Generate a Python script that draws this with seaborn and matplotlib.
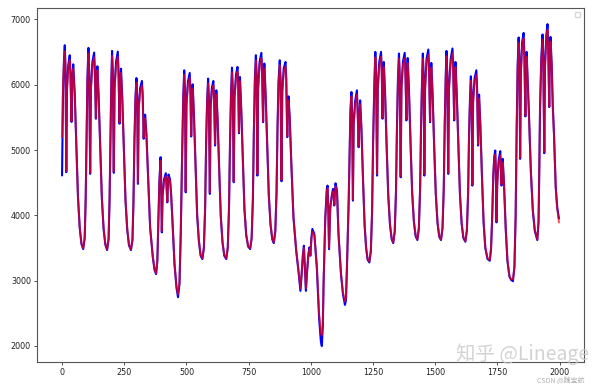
import numpy as np
import pandas as pd
import matplotlib
matplotlib.use('Agg')
import matplotlib.pyplot as plt
import seaborn as sns

# 15-min load, actual (blue) vs predicted (red), one row per day
day_x = [
    [0, 4, 8, 11, 14, 17, 20, 25, 31, 34, 38, 41, 45, 51, 58, 64, 71, 78],
    [85, 91, 95, 99, 102, 106, 109, 113, 116, 122, 129, 132, 136, 139, 142, 147, 154, 160, 167, 174],
    [181, 187, 191, 195, 198, 201, 204, 208, 211, 217, 224, 227, 231, 234, 237, 242, 249, 255, 262, 269],
    [277, 283, 287, 291, 295, 299, 302, 305, 308, 314, 321, 324, 328, 331, 334, 339, 345, 354, 365, 372],
    [378, 383, 387, 391, 396, 398, 401, 404, 410, 417, 420, 423, 426, 428, 434, 438, 443, 448, 452, 460],
    [466, 472, 477, 482, 487, 491, 494, 497, 500, 506, 513, 516, 519, 522, 525, 530, 537, 543, 550, 557],
    [564, 570, 575, 579, 583, 587, 590, 594, 597, 602, 608, 611, 615, 618, 620, 625, 632, 638, 645, 652],
    [660, 666, 671, 675, 679, 683, 686, 690, 693, 699, 705, 708, 711, 713, 715, 720, 727, 733, 740, 748],
    [756, 762, 767, 771, 775, 779, 782, 785, 788, 794, 801, 804, 808, 810, 813, 818, 825, 831, 838, 845],
    [851, 857, 862, 866, 870, 875, 878, 882, 885, 891, 898, 901, 905, 907, 910, 915, 921, 930, 941, 950,
     958, 963, 968, 972, 976, 980, 985, 990, 994, 998, 1002, 1006, 1014, 1024, 1033, 1040],
    [1044, 1048, 1051, 1058, 1064, 1067, 1070, 1073, 1078, 1084, 1089, 1092, 1094, 1097, 1099, 1105, 1111, 1121, 1129],
    [1137, 1141, 1145, 1152, 1159, 1163, 1166, 1169, 1172, 1178, 1185, 1188, 1192, 1195, 1198, 1203, 1210, 1216, 1222, 1228],
    [1235, 1241, 1246, 1250, 1255, 1259, 1262, 1266, 1269, 1275, 1282, 1285, 1288, 1290, 1293, 1298, 1305, 1311, 1318, 1325],
    [1331, 1337, 1342, 1346, 1350, 1354, 1357, 1361, 1364, 1370, 1377, 1380, 1384, 1386, 1389, 1394, 1401, 1407, 1414, 1421],
    [1428, 1434, 1439, 1443, 1447, 1450, 1453, 1456, 1459, 1465, 1472, 1475, 1479, 1481, 1484, 1489, 1496, 1502, 1509, 1516],
    [1523, 1529, 1534, 1538, 1542, 1545, 1548, 1552, 1555, 1562, 1569, 1572, 1576, 1578, 1581, 1586, 1593, 1599, 1606, 1613],
    [1621, 1627, 1632, 1636, 1640, 1643, 1646, 1649, 1652, 1658, 1665, 1668, 1672, 1674, 1676, 1681, 1688, 1694, 1701, 1710],
    [1719, 1724, 1729, 1733, 1737, 1741, 1743, 1746, 1749, 1755, 1761, 1763, 1766, 1768, 1771, 1776, 1783, 1790, 1798, 1805],
    [1812, 1818, 1823, 1827, 1831, 1835, 1838, 1841, 1844, 1849, 1855, 1858, 1862, 1864, 1867, 1872, 1876, 1884, 1892, 1900],
    [1910, 1915, 1918, 1921, 1926, 1931, 1934, 1938, 1941, 1946, 1951, 1954, 1958, 1960, 1963, 1968, 1972, 1977, 1984, 1990, 1997],
]

day_actual = [
    [4610, 5900, 6400, 6605, 6250, 4660, 5950, 6300, 6452, 6150, 5430, 6100, 6313, 5860, 4990, 4280, 3810, 3560],
    [3482, 3650, 4250, 5300, 6100, 6564, 6200, 4634, 5950, 6350, 6493, 6200, 5479, 6050, 6283, 5830, 4960, 4260, 3790, 3550],
    [3467, 3630, 4230, 5250, 6050, 6518, 6200, 4650, 5950, 6350, 6508, 6200, 5403, 6000, 6247, 5800, 4930, 4230, 3780, 3540],
    [3467, 3620, 4200, 5150, 5800, 6103, 5800, 4481, 5650, 5950, 6057, 5850, 5172, 5450, 5541, 5250, 4680, 3810, 3350, 3160],
    [3098, 3300, 3900, 4500, 4890, 4600, 3738, 4300, 4550, 4644, 4450, 4198, 4500, 4624, 4550, 4350, 3970, 3550, 3250, 2890],
    [2745, 2950, 3700, 4800, 5800, 6221, 5900, 4352, 5700, 6050, 6180, 5900, 5207, 5750, 6006, 5550, 4700, 4000, 3600, 3380],
    [3329, 3500, 4100, 5100, 5750, 6094, 5800, 4327, 5650, 5950, 6057, 5800, 5069, 5650, 5914, 5500, 4650, 3980, 3580, 3380],
    [3329, 3500, 4100, 5100, 5850, 6262, 5950, 4506, 5800, 6150, 6272, 6000, 5258, 5900, 6119, 5650, 4800, 4100, 3700, 3520],
    [3482, 3650, 4250, 5300, 6100, 6452, 6150, 4608, 5950, 6350, 6488, 6200, 5427, 6050, 6324, 5870, 5000, 4300, 3850, 3630],
    [3574, 3750, 4350, 5350, 6050, 6375, 6100, 4521, 5900, 6250, 6349, 6100, 5197, 5600, 5822, 5500, 4840, 3970, 3457, 3150,
     2842, 3100, 3400, 3533, 3200, 2842, 3150, 3400, 3507, 3380, 3650, 3790, 3713, 3200, 2432, 2074],
    [1997, 2300, 2945, 3968, 4400, 4455, 4100, 3482, 4122, 4300, 4404, 4300, 4150, 4380, 4490, 4378, 3713, 3098, 2791],
    [2627, 2700, 3200, 4224, 5607, 5888, 5500, 4224, 5400, 5750, 5914, 5600, 5043, 5500, 5760, 5350, 4500, 3850, 3500, 3320],
    [3277, 3450, 4050, 5100, 6000, 6503, 6200, 4608, 5950, 6350, 6503, 6200, 5479, 6050, 6349, 5900, 5000, 4300, 3850, 3630],
    [3574, 3750, 4350, 5350, 6100, 6478, 6150, 4582, 5950, 6350, 6488, 6200, 5453, 6100, 6410, 5950, 5050, 4350, 3900, 3680],
    [3621, 3800, 4400, 5400, 6100, 6478, 6150, 4608, 5950, 6400, 6539, 6250, 5427, 6050, 6334, 5880, 5000, 4330, 3880, 3670],
    [3621, 3800, 4400, 5400, 6150, 6518, 6200, 4634, 5950, 6400, 6555, 6250, 5453, 6050, 6349, 5900, 5030, 4330, 3870, 3650],
    [3595, 3770, 4350, 5300, 5850, 6129, 5850, 4455, 5750, 6100, 6221, 5950, 5069, 5600, 5848, 5400, 4550, 3900, 3500, 3330],
    [3303, 3480, 4000, 4600, 4900, 4992, 4750, 3891, 4500, 4850, 4982, 4800, 4455, 4700, 4864, 4500, 3800, 3300, 3060, 3010],
    [2990, 3200, 4000, 5300, 6300, 6724, 6350, 4864, 6200, 6650, 6794, 6450, 5515, 6200, 6503, 6000, 5600, 4680, 4070, 3760],
    [3621, 3900, 4700, 5650, 6400, 6770, 6400, 4951, 6300, 6750, 6928, 6550, 5658, 6400, 6733, 6300, 5700, 5250, 4430, 4120, 3950],
]

day_pred = [
    [5200, 6000, 6380, 6510, 6200, 4680, 5920, 6260, 6380, 6110, 5440, 6060, 6240, 5830, 4980, 4280, 3815, 3570],
    [3495, 3660, 4260, 5300, 6060, 6480, 6160, 4650, 5920, 6300, 6420, 6160, 5490, 6010, 6220, 5800, 4950, 4265, 3800, 3560],
    [3480, 3640, 4240, 5250, 6010, 6440, 6160, 4670, 5920, 6300, 6430, 6160, 5420, 5960, 6180, 5770, 4920, 4235, 3790, 3550],
    [3480, 3630, 4210, 5150, 5770, 6030, 5770, 4500, 5620, 5900, 5990, 5810, 5190, 5420, 5480, 5220, 4670, 3815, 3360, 3170],
    [3110, 3310, 3900, 4480, 4840, 4580, 3760, 4290, 4520, 4600, 4430, 4210, 4480, 4580, 4520, 4340, 3970, 3555, 3260, 2900],
    [2790, 2970, 3710, 4800, 5760, 6150, 5860, 4370, 5670, 6000, 6110, 5860, 5220, 5710, 5940, 5520, 4690, 4005, 3610, 3390],
    [3340, 3510, 4110, 5100, 5720, 6020, 5770, 4350, 5620, 5900, 5990, 5770, 5090, 5610, 5850, 5470, 4640, 3985, 3590, 3390],
    [3340, 3510, 4110, 5100, 5810, 6190, 5910, 4520, 5770, 6100, 6200, 5960, 5270, 5860, 6050, 5620, 4790, 4105, 3710, 3530],
    [3495, 3660, 4260, 5300, 6060, 6370, 6110, 4630, 5920, 6300, 6410, 6160, 5440, 6010, 6250, 5840, 4990, 4305, 3860, 3640],
    [3585, 3760, 4360, 5350, 6010, 6300, 6060, 4540, 5870, 6200, 6280, 6060, 5210, 5570, 5760, 5470, 4830, 3975, 3465, 3170,
     2880, 3110, 3390, 3500, 3210, 2880, 3160, 3390, 3480, 3390, 3630, 3750, 3690, 3210, 2500, 2200],
    [2160, 2350, 2950, 3960, 4370, 4410, 4090, 3500, 4110, 4280, 4360, 4290, 4160, 4360, 4440, 4360, 3710, 3110, 2820],
    [2680, 2740, 3210, 4220, 5570, 5820, 5470, 4240, 5370, 5700, 5850, 5570, 5060, 5470, 5700, 5320, 4490, 3855, 3510, 3330],
    [3290, 3460, 4060, 5100, 5960, 6420, 6160, 4630, 5920, 6300, 6430, 6160, 5490, 6010, 6270, 5870, 4990, 4305, 3860, 3640],
    [3585, 3760, 4360, 5350, 6060, 6400, 6110, 4600, 5920, 6300, 6410, 6160, 5470, 6060, 6330, 5920, 5040, 4355, 3910, 3690],
    [3630, 3810, 4410, 5400, 6060, 6400, 6110, 4630, 5920, 6350, 6460, 6210, 5440, 6010, 6260, 5850, 4990, 4335, 3890, 3680],
    [3630, 3810, 4410, 5400, 6110, 6440, 6160, 4650, 5920, 6350, 6480, 6210, 5470, 6010, 6270, 5870, 5020, 4335, 3880, 3660],
    [3605, 3780, 4360, 5300, 5820, 6060, 5820, 4470, 5720, 6050, 6150, 5910, 5090, 5570, 5790, 5370, 4540, 3905, 3510, 3340],
    [3315, 3490, 4010, 4600, 4870, 4930, 4720, 3910, 4480, 4810, 4920, 4770, 4470, 4680, 4810, 4480, 3800, 3310, 3070, 3020],
    [3020, 3210, 4000, 5290, 6260, 6640, 6310, 4880, 6170, 6600, 6710, 6410, 5530, 6160, 6430, 5970, 5580, 4680, 4075, 3770],
    [3630, 3910, 4700, 5640, 6360, 6690, 6360, 4970, 6270, 6700, 6840, 6510, 5670, 6360, 6660, 6270, 5680, 5240, 4430, 4110, 3890],
]

df = pd.DataFrame({
    'step': np.concatenate(day_x),
    'actual': np.concatenate(day_actual),
    'predicted': np.concatenate(day_pred),
})

sns.set_style('white')
plt.rcParams['font.family'] = ['DejaVu Sans']

fig = plt.figure(figsize=(6, 3.84), dpi=100)
ax = fig.add_axes([0.062, 0.057, 0.911, 0.922])

sns.lineplot(data=df, x='step', y='actual', color='blue', lw=1.5,
             estimator=None, sort=False, ax=ax)
sns.lineplot(data=df, x='step', y='predicted', color='red', lw=1.4, alpha=0.7,
             estimator=None, sort=False, ax=ax)

ax.set_xlabel('')
ax.set_ylabel('')
ax.set_xticks([0, 250, 500, 750, 1000, 1250, 1500, 1750, 2000])
ax.set_yticks([2000, 3000, 4000, 5000, 6000, 7000])
ax.tick_params(labelsize=5.8, length=2.5, width=0.6, color='#333333',
               labelcolor='#222222', bottom=True, left=True, pad=2)
for s in ax.spines.values():
    s.set_color('#555555')
    s.set_linewidth(0.8)

# empty legend box, as in the original
ax.legend(handles=[], loc='upper right', fontsize=5, borderpad=0.4,
          framealpha=0.8, edgecolor='#cccccc')

fig.text(0.76, 0.062, '知乎 @Lineage', fontsize=14, color='#c8c8c8', alpha=0.8,
         family=['Noto Sans CJK SC', 'DejaVu Sans'])
fig.text(0.895, 0.002, 'CSDN @魏宝航', fontsize=5, color='#b0b0b0',
         family=['Noto Sans CJK SC', 'DejaVu Sans'])

fig.savefig('out.png', dpi=100)
